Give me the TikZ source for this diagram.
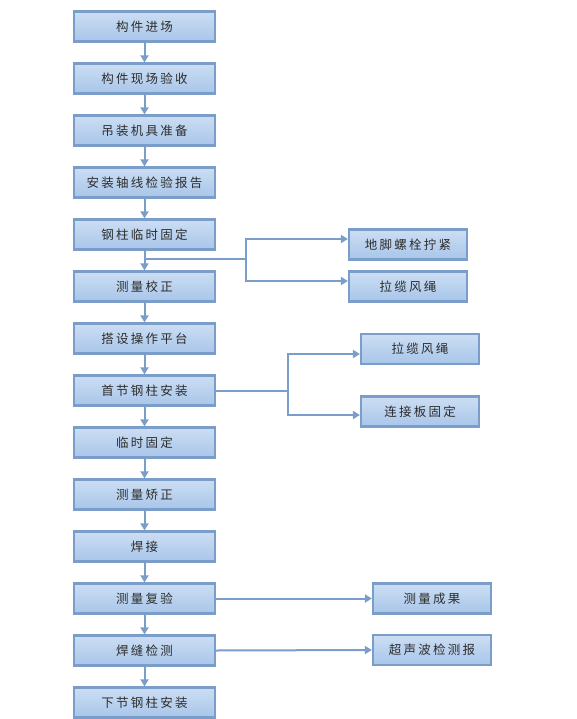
\documentclass[tikz,border=0pt]{standalone}
\usepackage{fontspec}
\newfontfamily\cjk[LetterSpace=18]{Noto Sans CJK SC}
\usepackage{tikz}
\usetikzlibrary{arrows.meta, positioning}

\definecolor{boxline}{RGB}{122,157,201}
\definecolor{boxtop}{RGB}{204,222,243}
\definecolor{boxbot}{RGB}{168,197,233}
\definecolor{txt}{RGB}{45,45,45}

\begin{document}
\begin{tikzpicture}[
      x=1pt, y=-1pt,
      stepbox/.style={draw=boxline, line width=2.2pt, top color=boxtop, bottom color=boxbot,
        minimum width=141pt, minimum height=30pt, inner sep=0pt,
        font=\cjk\fontsize{12.5}{14}\selectfont, text=txt},
      sidebox/.style={stepbox, minimum width=118pt},
      flow/.style={draw=boxline, line width=2pt, -{Triangle[length=7pt, width=8pt]}},
      link/.style={draw=boxline, line width=2pt}
    ]
    \useasboundingbox (0,0) rectangle (576,719);

    % main column
    \foreach \i/\t in {1/构件进场, 2/构件现场验收, 3/吊装机具准备, 4/安装轴线检验报告,
                       5/钢柱临时固定, 6/测量校正, 7/搭设操作平台, 8/首节钢柱安装,
                       9/临时固定, 10/测量矫正, 11/焊接, 12/测量复验,
                       13/焊缝检测, 14/下节钢柱安装}
      \node[stepbox] (s\i) at (144.5, 26.5+52*\i-52) {\t};
    \foreach \i [evaluate=\i as \j using int(\i+1)] in {1,...,13}
      \draw[flow] (s\i.south) -- (s\j.north);

    % side boxes
    \node[sidebox] (r1) at (408, 244.5) {地脚螺栓拧紧};
    \node[sidebox] (r2) at (408, 286.5) {拉缆风绳};
    \node[sidebox] (r3) at (420, 349) {拉缆风绳};
    \node[sidebox] (r4) at (420, 411.5) {连接板固定};
    \node[sidebox] (r5) at (432, 598.5) {测量成果};
    \node[sidebox] (r6) at (432, 650) {超声波检测报};

    % branch after 钢柱临时固定
    \coordinate (j1) at (144.5, 259);
    \coordinate (k1) at (246, 259);
    \draw[link] (j1) -- (k1);
    \draw[flow] (k1) |- ([yshift=5.5pt]r1.west);
    \draw[flow] (k1) |- ([yshift=5.5pt]r2.west);

    % branch at 首节钢柱安装
    \coordinate (k2) at (288, 390.5);
    \draw[link] (s8.east) -- (k2);
    \draw[flow] (k2) |- ([yshift=-5pt]r3.west);
    \draw[flow] (k2) |- ([yshift=-3.5pt]r4.west);

    \draw[flow] (s12.east) -- (r5.west);
    \draw[flow] (s13.east) -- (r6.west);
  \end{tikzpicture}
\end{document}
